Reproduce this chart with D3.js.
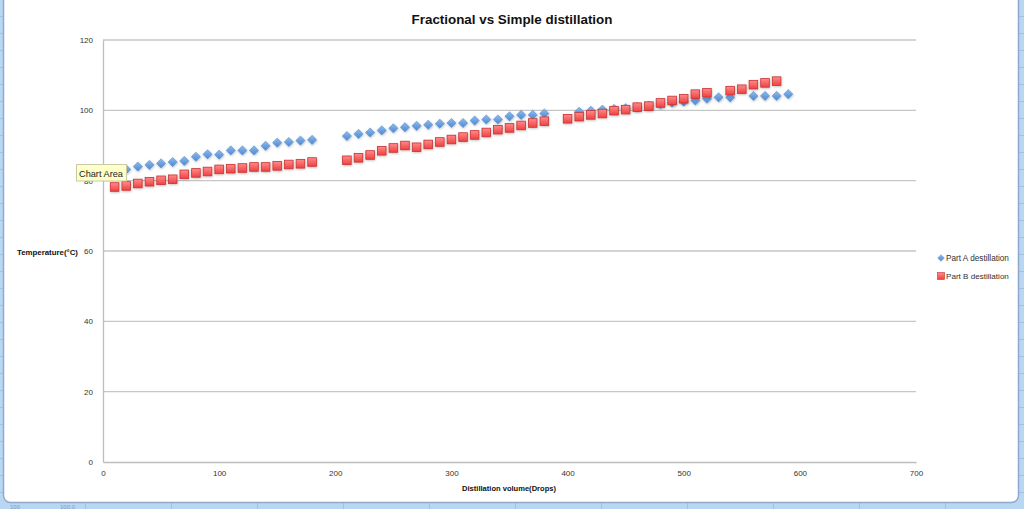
<!DOCTYPE html>
<html>
<head>
<meta charset="utf-8">
<script src="https://cdn.jsdelivr.net/npm/d3@7"></script>
<style>
  html, body { margin: 0; padding: 0; background: #b9d7f3; }
  svg { display: block; }
  text { font-family: "Liberation Sans", Arial, sans-serif; }
</style>
</head>
<body>
<svg id="chart"></svg>
<script>
// Part A (fractional) readings
const partAx = [10, 20, 30, 40, 50, 60, 70, 80, 90, 100, 110, 120, 130, 140, 150, 160, 170, 180,
  210, 220, 230, 240, 250, 260, 270, 280, 290, 300, 310, 320, 330, 340, 350, 360, 370, 380,
  410, 420, 430, 440, 450, 460, 470, 480, 490, 500, 510, 520, 530, 540, 560, 570, 580, 590];
const partAy = [82.8, 83.2, 84.0, 84.5, 84.9, 85.3, 85.6, 86.8, 87.5, 87.4, 88.6, 88.6, 88.6, 89.9, 90.8, 91.0, 91.4, 91.6,
  92.7, 93.3, 93.7, 94.3, 94.9, 95.2, 95.6, 95.9, 96.2, 96.4, 96.4, 97.1, 97.4, 97.4, 98.3, 98.7, 98.7, 99.1,
  99.6, 99.9, 100.2, 100.4, 100.6, 100.9, 101.3, 101.8, 102.2, 102.5, 102.8, 103.3, 103.7, 103.7, 104.1, 104.1, 104.1, 104.6];

// Part B (simple) readings
const partBx = [10, 20, 30, 40, 50, 60, 70, 80, 90, 100, 110, 120, 130, 140, 150, 160, 170, 180,
  210, 220, 230, 240, 250, 260, 270, 280, 290, 300, 310, 320, 330, 340, 350, 360, 370, 380,
  400, 410, 420, 430, 440, 450, 460, 470, 480, 490, 500, 510, 520, 540, 550, 560, 570, 580];
const partBy = [78.2, 78.5, 79.2, 79.7, 80.1, 80.4, 81.8, 82.2, 82.6, 83.2, 83.4, 83.6, 83.9, 83.9, 84.2, 84.6, 84.8, 85.3,
  85.8, 86.5, 87.3, 88.5, 89.3, 90.0, 89.5, 90.3, 91.0, 91.7, 92.4, 93.0, 93.7, 94.5, 95.0, 95.7, 96.4, 96.9,
  97.6, 98.2, 98.7, 99.1, 99.9, 100.2, 100.9, 101.2, 102.1, 102.8, 103.3, 104.6, 105.0, 105.6, 106.0, 107.3, 107.8, 108.3];

const xTicks = [0, 100, 200, 300, 400, 500, 600, 700];
const yTicks = [0, 20, 40, 60, 80, 100, 120];
const seriesNames = ["Part A destillation", "Part B destillation"];

const width = 1024, height = 509;
const svg = d3.select("#chart").attr("width", width).attr("height", height);

// spreadsheet window behind the chart
const defs = svg.append("defs");
const pat = defs.append("pattern").attr("id", "cells")
    .attr("width", 86).attr("height", 17).attr("patternUnits", "userSpaceOnUse");
pat.append("rect").attr("width", 86).attr("height", 17).attr("fill", "#b9d7f3");
pat.append("path").attr("d", "M0,16.5H86M85.5,0V17").attr("stroke", "#9fc2e6").attr("stroke-width", 1);
svg.append("rect").attr("width", width).attr("height", height).attr("fill", "url(#cells)");
svg.append("text").attr("x", 10).attr("y", 508.5).attr("font-size", 6).attr("fill", "#8a9bb0").text("100");
svg.append("text").attr("x", 60).attr("y", 508.5).attr("font-size", 6).attr("fill", "#8a9bb0").text("100.0");

// chart area
svg.append("rect")
    .attr("x", 3.5).attr("y", -8).attr("width", 1015).attr("height", 510.5)
    .attr("rx", 7).attr("fill", "#fff").attr("stroke", "#8ea9cc").attr("stroke-width", 1.5);

// gradients + shadow for markers
const gA = defs.append("linearGradient").attr("id", "gA").attr("x1", 0).attr("y1", 0).attr("x2", 0).attr("y2", 1);
gA.append("stop").attr("offset", "0%").attr("stop-color", "#8fbbec");
gA.append("stop").attr("offset", "100%").attr("stop-color", "#4b88d2");
const gB = defs.append("linearGradient").attr("id", "gB").attr("x1", 0).attr("y1", 0).attr("x2", 0).attr("y2", 1);
gB.append("stop").attr("offset", "0%").attr("stop-color", "#ff8a8a");
gB.append("stop").attr("offset", "100%").attr("stop-color", "#ef4141");
const sh = defs.append("filter").attr("id", "shadow").attr("x", "-50%").attr("y", "-50%").attr("width", "200%").attr("height", "200%");
sh.append("feDropShadow").attr("dx", 0.5).attr("dy", 1).attr("stdDeviation", 0.8)
    .attr("flood-color", "#000").attr("flood-opacity", 0.25);

const x = d3.scaleLinear().domain([0, 700]).range([103, 916]);
const y = d3.scaleLinear().domain([0, 120]).range([462, 40]);

// gridlines
svg.append("g").selectAll("line")
    .data(yTicks.filter(d => d > 0))
    .enter().append("line")
    .attr("x1", x(0)).attr("x2", x(700))
    .attr("y1", d => y(d)).attr("y2", d => y(d))
    .attr("stroke", "#c6c6c6").attr("stroke-width", 1.3);

// axes
const yAxis = svg.append("g")
    .attr("transform", `translate(${x(0)},0)`)
    .call(d3.axisLeft(y).tickValues(yTicks).tickSize(0).tickPadding(10));
const xAxis = svg.append("g")
    .attr("transform", `translate(0,${y(0)})`)
    .call(d3.axisBottom(x).tickValues(xTicks).tickSize(0).tickPadding(8));
[xAxis, yAxis].forEach(a => {
  a.select(".domain").attr("stroke", "#bdbdbd").attr("stroke-width", 1.3);
  a.selectAll("text").attr("font-size", 8).attr("fill", "#333")
      .attr("font-family", "'Liberation Sans', Arial, sans-serif");
});

// series markers
const diamond = "M0,-4.6L4.6,0L0,4.6L-4.6,0Z";
svg.append("g").attr("filter", "url(#shadow)")
    .selectAll("path")
    .data(partAx.map((d, i) => [d, partAy[i]]))
    .enter().append("path")
    .attr("transform", d => `translate(${x(d[0])},${y(d[1])})`)
    .attr("d", diamond)
    .attr("fill", "url(#gA)").attr("stroke", "#5a8fcf").attr("stroke-width", 0.6);

svg.append("g").attr("filter", "url(#shadow)")
    .selectAll("rect")
    .data(partBx.map((d, i) => [d, partBy[i]]))
    .enter().append("rect")
    .attr("x", d => x(d[0]) - 4.3).attr("y", d => y(d[1]) - 4.3)
    .attr("width", 8.6).attr("height", 8.6)
    .attr("fill", "url(#gB)").attr("stroke", "#c73232").attr("stroke-width", 0.8);

// fit a text element to a width
function fit(sel, w) {
  const len = sel.node().getComputedTextLength();
  const fs = parseFloat(sel.attr("font-size"));
  sel.attr("font-size", (fs * w / len).toFixed(2));
}

// titles
fit(svg.append("text").attr("x", 512).attr("y", 24).attr("text-anchor", "middle")
    .attr("font-size", 15).attr("font-weight", "bold").attr("fill", "#111")
    .text("Fractional vs Simple distillation"), 201);
fit(svg.append("text").attr("x", 509).attr("y", 491).attr("text-anchor", "middle")
    .attr("font-size", 8).attr("font-weight", "bold").attr("fill", "#111")
    .text("Distillation volume(Drops)"), 94);
fit(svg.append("text").attr("x", 17).attr("y", 255)
    .attr("font-size", 8).attr("font-weight", "bold").attr("fill", "#111")
    .text("Temperature(°C)"), 61);

// legend
const legend = svg.append("g").attr("transform", "translate(941,258)");
legend.append("path").attr("d", "M0,-3.3L3.3,0L0,3.3L-3.3,0Z")
    .attr("fill", "url(#gA)").attr("stroke", "#5a8fcf").attr("stroke-width", 0.5);
legend.append("rect").attr("x", -3.5).attr("y", 14.5).attr("width", 7).attr("height", 7)
    .attr("fill", "url(#gB)").attr("stroke", "#c73232").attr("stroke-width", 0.6);
legend.selectAll("text.lg")
    .data(seriesNames)
    .enter().append("text").attr("class", "lg")
    .attr("x", 5).attr("y", (d, i) => 3 + i * 18)
    .attr("font-size", 8).attr("fill", "#333")
    .text(d => d)
    .each(function() { fit(d3.select(this), 63); });

// "Chart Area" hover tip
const tip = svg.append("g").attr("transform", "translate(76,164)");
tip.append("rect").attr("x", 0.5).attr("y", 0.5).attr("width", 50).attr("height", 16.5)
    .attr("fill", "#ffffc8").attr("stroke", "#c9c9a6").attr("stroke-width", 1);
fit(tip.append("text").attr("x", 3).attr("y", 12.5).attr("font-size", 10).attr("fill", "#222")
    .text("Chart Area"), 44);
</script>
</body>
</html>
